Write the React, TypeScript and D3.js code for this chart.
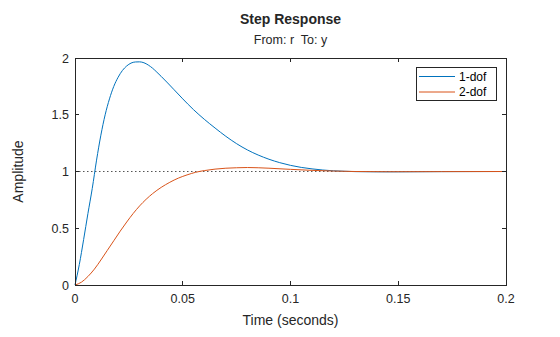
import React from "react";
import * as d3 from "d3";

const xTicks = [0, 0.05, 0.1, 0.15, 0.2];
const yTicks = [0, 0.5, 1, 1.5, 2];

const t1 = [0, 0.002, 0.004, 0.006, 0.008, 0.01, 0.012, 0.014, 0.016, 0.018, 0.02, 0.022, 0.024, 0.026, 0.028, 0.03, 0.032, 0.034, 0.036, 0.038, 0.04, 0.043, 0.046, 0.05, 0.055, 0.06, 0.065, 0.07, 0.075, 0.08, 0.085, 0.09, 0.095, 0.1, 0.105, 0.11, 0.115, 0.12, 0.125, 0.13, 0.14, 0.15, 0.17, 0.2];
const v1 = [0, 0.18, 0.4, 0.63, 0.85, 1.1, 1.32, 1.5, 1.64, 1.75, 1.83, 1.89, 1.93, 1.955, 1.965, 1.966, 1.958, 1.938, 1.91, 1.875, 1.838, 1.78, 1.72, 1.64, 1.545, 1.46, 1.383, 1.31, 1.245, 1.19, 1.145, 1.108, 1.078, 1.054, 1.036, 1.023, 1.013, 1.006, 1.002, 0.999, 0.997, 0.997, 0.999, 1.0];

const t2 = [0, 0.003, 0.006, 0.009, 0.012, 0.015, 0.018, 0.021, 0.024, 0.027, 0.03, 0.033, 0.036, 0.04, 0.044, 0.048, 0.052, 0.056, 0.06, 0.065, 0.07, 0.075, 0.08, 0.085, 0.09, 0.1, 0.11, 0.12, 0.13, 0.145, 0.17, 0.2];
const v2 = [0, 0.025, 0.075, 0.14, 0.22, 0.305, 0.39, 0.475, 0.555, 0.63, 0.697, 0.755, 0.805, 0.86, 0.905, 0.942, 0.97, 0.993, 1.008, 1.021, 1.029, 1.033, 1.035, 1.033, 1.029, 1.019, 1.01, 1.004, 1.0, 0.998, 0.999, 1.0];

const seriesNames = ["1-dof", "2-dof"];
const colors = ["#0072BD", "#D95319"];

const W = 560, H = 337;
const L = 75, R = 506, T = 58, B = 285;
const txt = "#262626";
const font = "'Liberation Sans', Arial, Helvetica, sans-serif";

export default function App() {
  const x = d3.scaleLinear().domain([0, 0.2]).range([L, R]);
  const y = d3.scaleLinear().domain([0, 2]).range([B, T]);
  const line = d3
    .line<[number, number]>()
    .x((d) => x(d[0]))
    .y((d) => y(d[1]))
    .curve(d3.curveMonotoneX);
  const d1 = line(t1.map((t, i) => [t, v1[i]] as [number, number])) || "";
  const d2 = line(t2.map((t, i) => [t, v2[i]] as [number, number])) || "";
  const tl = 4;
  return (
    <svg width={W} height={H} style={{ position: "absolute", left: 0, top: 0, background: "#fff" }} fontFamily={font}>
      <rect x={0} y={0} width={W} height={H} fill="#fff" />
      <text x={(L + R) / 2} y={24} textAnchor="middle" fontSize={14} fontWeight="bold" fill={txt}>Step Response</text>
      <text x={(L + R) / 2} y={43.5} textAnchor="middle" fontSize={12.5} fill={txt} xmlSpace="preserve">From: r  To: y</text>
      <rect x={L} y={T} width={R - L} height={B - T} fill="#fff" />
      <line x1={L} x2={R} y1={y(1)} y2={y(1)} stroke="#555" strokeWidth={1} strokeDasharray="1.5,2.5" />
      <path d={d1} fill="none" stroke={colors[0]} strokeWidth={1} />
      <path d={d2} fill="none" stroke={colors[1]} strokeWidth={1} />
      <g stroke={txt} strokeWidth={1} shapeRendering="crispEdges">
        {xTicks.map((t) => (
          <g key={"x" + t}>
            <line x1={x(t)} x2={x(t)} y1={B} y2={B - tl} />
            <line x1={x(t)} x2={x(t)} y1={T} y2={T + tl} />
          </g>
        ))}
        {yTicks.map((t) => (
          <g key={"y" + t}>
            <line x1={L} x2={L + tl} y1={y(t)} y2={y(t)} />
            <line x1={R} x2={R - tl} y1={y(t)} y2={y(t)} />
          </g>
        ))}
        <rect x={L} y={T} width={R - L} height={B - T} fill="none" />
      </g>
      {xTicks.map((t) => (
        <text key={"xl" + t} x={x(t)} y={302.5} textAnchor="middle" fontSize={12.5} fill={txt}>{String(t)}</text>
      ))}
      {yTicks.map((t) => (
        <text key={"yl" + t} x={69} y={y(t) + 4.5} textAnchor="end" fontSize={12.5} fill={txt}>{String(t)}</text>
      ))}
      <text x={(L + R) / 2} y={324.5} textAnchor="middle" fontSize={14} fill={txt}>Time (seconds)</text>
      <text transform={`translate(23,${(T + B) / 2}) rotate(-90)`} textAnchor="middle" fontSize={14} fill={txt}>Amplitude</text>
      <g>
        <rect x={416.5} y={67.5} width={80} height={33} fill="#fff" stroke="#262626" strokeWidth={1} />
        {seriesNames.map((n, i) => (
          <g key={n}>
            <line x1={419} x2={455} y1={76.5 + i * 15.5} y2={76.5 + i * 15.5} stroke={colors[i]} strokeWidth={1} />
            <text x={459} y={80.5 + i * 15.5} fontSize={12} fill="#000">{n}</text>
          </g>
        ))}
      </g>
    </svg>
  );
}
